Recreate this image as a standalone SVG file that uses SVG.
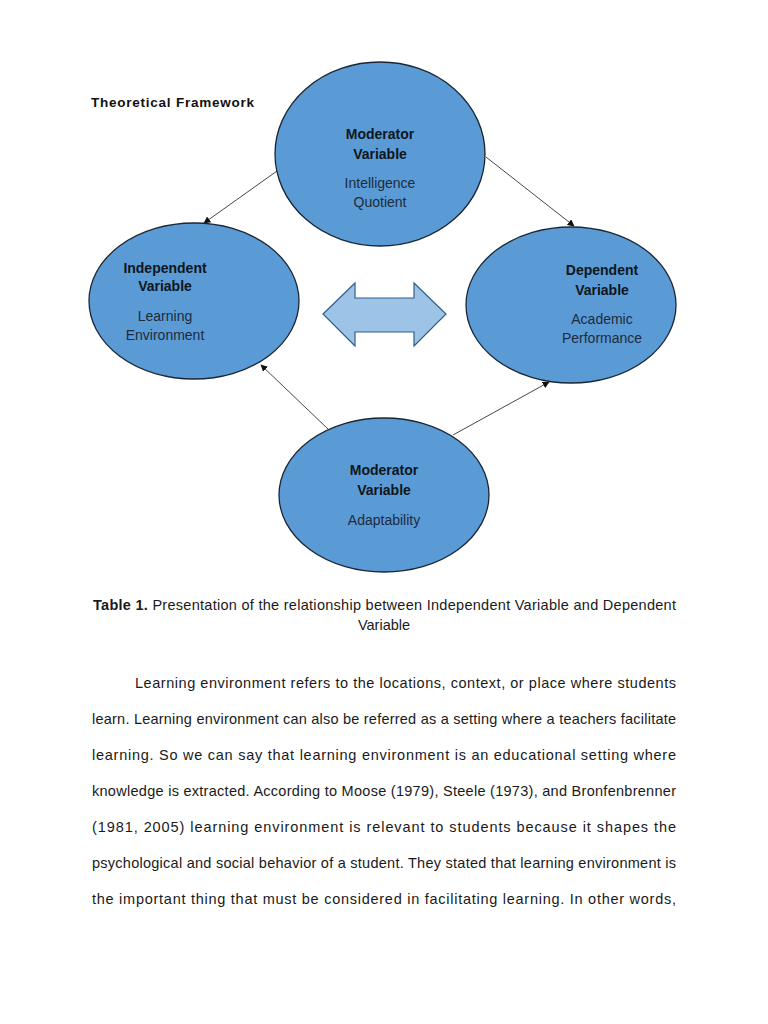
<svg xmlns="http://www.w3.org/2000/svg" width="768" height="1024" viewBox="0 0 768 1024">
<style>
.node{fill:#5b9bd5;stroke:#1a2634;stroke-width:1.3}
.b{font-family:"Liberation Sans",Arial,sans-serif;font-weight:bold;font-size:14px;fill:#0e1620;text-anchor:middle}
.r{font-family:"Liberation Sans",Arial,sans-serif;font-size:14px;fill:#1c2b3d;text-anchor:middle}
.p{font-family:"Liberation Sans",Arial,sans-serif;font-size:14.5px;fill:#1a1a1a}
.con{stroke:#333;stroke-width:0.9;fill:none;marker-end:url(#ah)}
</style>
<defs>
<marker id="ah" viewBox="0 0 10 10" refX="9" refY="5" markerWidth="7" markerHeight="7" orient="auto" markerUnits="userSpaceOnUse">
<path d="M0,0 L10,5 L0,10 z" fill="#111"/>
</marker>
</defs>
<rect width="768" height="1024" fill="#fff"/>
<text x="91" y="107" font-family="Liberation Sans,Arial,sans-serif" font-weight="bold" font-size="13.5" fill="#111" textLength="163" lengthAdjust="spacing">Theoretical Framework</text>

<g id="connectors">
<line class="con" x1="277" y1="171" x2="204" y2="223"/>
<line class="con" x1="486" y1="157" x2="574" y2="226"/>
<line class="con" x1="328" y1="429" x2="261" y2="365"/>
<line class="con" x1="453" y1="435" x2="549" y2="382"/>
<path id="double-arrow" d="M323,314 L355,283 L355,298 L414,298 L414,283 L446,314 L414,346 L414,332 L355,332 L355,346 Z" fill="#9dc3e6" stroke="#2f5f8e" stroke-width="1.2"/>
</g>

<g id="moderator-iq">
<ellipse class="node" cx="380" cy="154" rx="105" ry="92"/>
<text class="b" x="380" y="139">Moderator</text>
<text class="b" x="380" y="159">Variable</text>
<text class="r" x="380" y="188">Intelligence</text>
<text class="r" x="380" y="207">Quotient</text>
</g>

<g id="independent">
<ellipse class="node" cx="194" cy="301" rx="105" ry="78"/>
<text class="b" x="165" y="273">Independent</text>
<text class="b" x="165" y="291">Variable</text>
<text class="r" x="165" y="321">Learning</text>
<text class="r" x="165" y="340">Environment</text>
</g>

<g id="dependent">
<ellipse class="node" cx="571" cy="305" rx="105" ry="78"/>
<text class="b" x="602" y="275">Dependent</text>
<text class="b" x="602" y="295">Variable</text>
<text class="r" x="602" y="324">Academic</text>
<text class="r" x="602" y="343">Performance</text>
</g>

<g id="moderator-adapt">
<ellipse class="node" cx="384" cy="495" rx="105" ry="77"/>
<text class="b" x="384" y="475">Moderator</text>
<text class="b" x="384" y="495">Variable</text>
<text class="r" x="384" y="525">Adaptability</text>
</g>

<g id="caption">
<text class="p" x="93" y="610" textLength="583" lengthAdjust="spacing"><tspan font-weight="bold">Table 1.</tspan> Presentation of the relationship between Independent Variable and Dependent</text>
<text class="p" x="384" y="630" text-anchor="middle">Variable</text>
</g>

<g id="paragraph">
<text class="p" x="135" y="688" textLength="541" lengthAdjust="spacing">Learning environment refers to the locations, context, or place where students</text>
<text class="p" x="92" y="724" textLength="584" lengthAdjust="spacing">learn. Learning environment can also be referred as a setting where a teachers facilitate</text>
<text class="p" x="92" y="760" textLength="584" lengthAdjust="spacing">learning. So we can say that learning environment is an educational setting where</text>
<text class="p" x="92" y="796" textLength="584" lengthAdjust="spacing">knowledge is extracted. According to Moose (1979), Steele (1973), and Bronfenbrenner</text>
<text class="p" x="92" y="832" textLength="584" lengthAdjust="spacing">(1981, 2005) learning environment is relevant to students because it shapes the</text>
<text class="p" x="92" y="868" textLength="584" lengthAdjust="spacing">psychological and social behavior of a student. They stated that learning environment is</text>
<text class="p" x="92" y="904" textLength="584" lengthAdjust="spacing">the important thing that must be considered in facilitating learning. In other words,</text>
</g>
</svg>
